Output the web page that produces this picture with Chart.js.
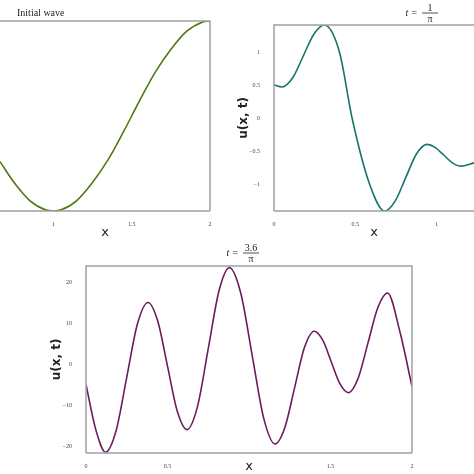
<!DOCTYPE html>
<html><head><meta charset="utf-8">
<script src="https://cdn.jsdelivr.net/npm/chart.js@4"></script>
<style>
html,body{margin:0;padding:0;width:474px;height:474px;overflow:hidden;background:#fff;position:relative}
.c{position:absolute}
</style></head><body>
<div class="c" style="left:0;top:0;width:225px;height:240px"><canvas id="c1"></canvas></div>
<div class="c" style="left:237px;top:0;width:237px;height:240px"><canvas id="c2"></canvas></div>
<div class="c" style="left:50px;top:240px;width:380px;height:234px"><canvas id="c3"></canvas></div>
<script>
// Initial wave (normalized amplitude)
const x1 = [0.66,0.75,0.85,0.95,1.0,1.05,1.15,1.25,1.35,1.45,1.55,1.65,1.75,1.85,1.95,2.0];
const y1 = [0.26,0.15,0.055,0.006,0,0.006,0.055,0.15,0.27,0.42,0.58,0.73,0.85,0.945,0.994,1];
const xTicks1 = [1,1.5,2];
// t = 1/pi
const x2 = [0,0.05,0.115,0.18,0.245,0.31,0.4025,0.48,0.5875,0.68,0.745,0.81,0.875,0.94,0.9925,1.045,1.0975,1.15,1.23];
const y2 = [0.5,0.47,0.61,0.94,1.27,1.41,1.0,0,-1.0,-1.41,-1.26,-0.905,-0.55,-0.4,-0.45,-0.565,-0.68,-0.73,-0.68];
const xTicks2 = [0,0.5,1];
const yTicks2 = [1,0.5,0,-0.5,-1];
// t = 3.6/pi
const x3 = [0,0.06,0.12,0.185,0.25,0.315,0.38,0.44,0.5,0.56,0.62,0.685,0.75,0.815,0.88,0.95,1.02,1.09,1.16,1.22,1.28,1.34,1.4,1.4525,1.505,1.5575,1.61,1.67,1.73,1.79,1.85,1.925,2.0];
const y3 = [-5,-16,-21.5,-16.2,-3.25,9.7,15,10.5,-0.5,-11.5,-16,-10.2,3.75,17.7,23.5,17.2,2,-13.2,-19.5,-15.5,-5.75,4,8,5.8,0.5,-4.8,-7,-3.4,5.15,13.7,17.3,8,-5.5];
const xTicks3 = [0,0.5,1,1.5,2];
const yTicks3 = [20,10,0,-10,-20];

const pts=(xs,ys)=>xs.map((x,i)=>({x,y:ys[i]}));
const fmt=v=>String(v).replace('-','\u2212');
const tickFont={family:'Liberation Serif',size:6};

const framePlugin={id:'frame',afterDraw(ch,a,o){
  const {left,right,top,bottom}=ch.chartArea;const c=ch.ctx;
  c.save();c.strokeStyle='#a0a0a0';c.lineWidth=1.5;c.beginPath();
  if(o.left!==false){c.moveTo(left,bottom);c.lineTo(left,top);}else{c.moveTo(left,top);}
  c.lineTo(right,top);
  if(o.right!==false){c.lineTo(right,bottom);} c.moveTo(left,bottom);c.lineTo(right,bottom);
  c.stroke();
  if(o.title){c.fillStyle='#222';c.font='10px Liberation Serif';c.textAlign='left';c.textBaseline='alphabetic';c.fillText(o.title,o.tx,o.ty);}
  if(o.num){const cx=o.cx,cy=o.cy;c.fillStyle='#222';c.strokeStyle='#222';c.lineWidth=0.8;
    c.font='italic 10px Liberation Serif';c.textAlign='right';c.textBaseline='middle';c.fillText('t = ',cx-2,cy);
    c.font='10px Liberation Serif';c.textAlign='center';c.textBaseline='alphabetic';c.fillText(o.num,cx+8,cy-2);
    c.beginPath();c.moveTo(cx,cy);c.lineTo(cx+16,cy);c.stroke();
    c.textBaseline='top';c.fillText('\u03c0',cx+8,cy+1);}
  c.restore();}};

function mk(id,data,color,xs,xt,ys,yt,opt){
  return new Chart(document.getElementById(id),{type:'line',
    data:{datasets:[{data,borderColor:color,borderWidth:1.6,pointRadius:0,cubicInterpolationMode:'monotone',fill:false}]},
    options:{responsive:true,maintainAspectRatio:false,animation:false,
      layout:{padding:opt.pad},
      plugins:{legend:{display:false},tooltip:{enabled:false},frame:opt.frame},
      scales:{
        x:{type:'linear',min:xs[0],max:xs[1],grid:{display:false,drawTicks:true},border:{display:false},
          afterBuildTicks:s=>{s.ticks=xt.map(v=>({value:v}));},
          ticks:{font:tickFont,color:'#444',padding:2,maxRotation:0,callback:v=>fmt(v)},
          title:{display:true,text:'x',font:{family:'DejaVu Sans',size:13},color:'#222',padding:{top:0,bottom:0}},
          afterFit:s=>{s.height=opt.xh;}},
        y:{type:'linear',min:ys[0],max:ys[1],display:opt.yshow,grid:{display:false},border:{display:false},
          afterBuildTicks:s=>{s.ticks=yt.map(v=>({value:v}));},
          ticks:{font:tickFont,color:'#444',padding:6,callback:v=>fmt(v)},
          title:{display:true,text:'u(x, t)',font:{family:'DejaVu Sans',size:12,weight:'bold'},color:'#222',padding:{top:0,bottom:0}},
          afterFit:s=>{s.width=opt.yw;}}
      }},plugins:[framePlugin]});
}
mk('c1',pts(x1,y1),'#4f7a12',[0.66,2],xTicks1,[0,1],[],
  {pad:{left:0,right:15,top:21,bottom:0},xh:29,yshow:false,yw:0,frame:{left:false,title:'Initial wave',tx:17,ty:16}});
mk('c2',pts(x2,y2),'#16756a',[0,1.23],xTicks2,[-1.41,1.41],yTicks2,
  {pad:{left:0,right:0,top:25,bottom:0},xh:29,yshow:true,yw:37,frame:{right:false,num:'1',cx:185,cy:13}});
mk('c3',pts(x3,y3),'#6b1b5e',[0,2],xTicks3,[-21.7,23.9],yTicks3,
  {pad:{left:0,right:18,top:26,bottom:0},xh:21,yshow:true,yw:36,frame:{num:'3.6',cx:193,cy:13}});
</script></body></html>
